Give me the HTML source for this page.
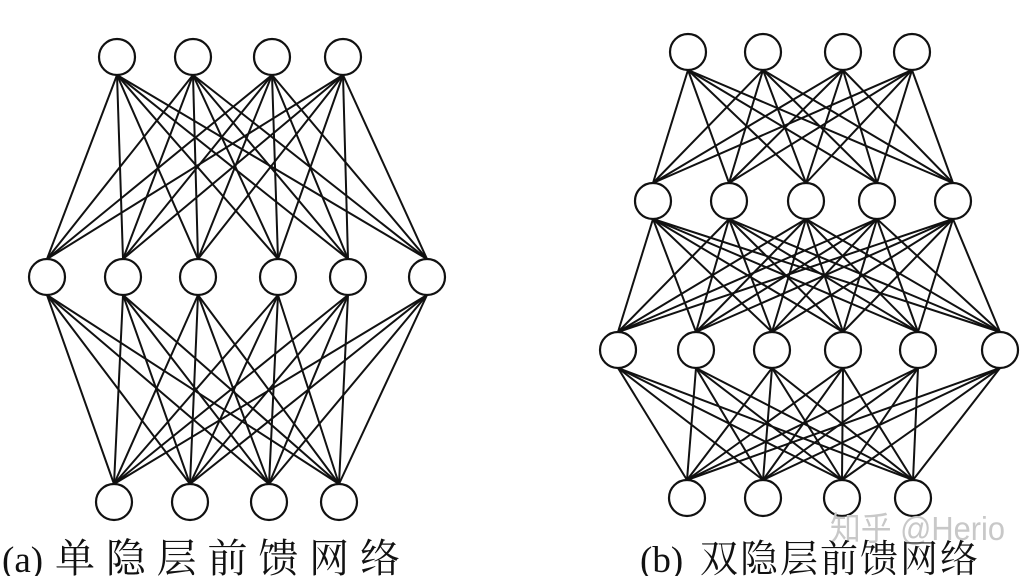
<!DOCTYPE html>
<html><head><meta charset="utf-8"><style>
html,body{margin:0;padding:0;background:#fff;width:1034px;height:576px;overflow:hidden}
svg{display:block}
</style></head><body>
<svg id="s" width="1034" height="576" viewBox="0 0 1034 576" xmlns="http://www.w3.org/2000/svg">
<g id="lines" stroke="#111" stroke-width="2" fill="none"></g>
<g id="nodes" stroke="#111" stroke-width="2.2" fill="#fff"></g>
<text x="830" y="540" font-family="'Liberation Sans','Noto Sans CJK SC',sans-serif" font-size="33" fill="#c8c8c8" textLength="175" lengthAdjust="spacingAndGlyphs">知乎 @Herio</text>
<g font-family="'Liberation Serif','Noto Serif CJK SC',serif" fill="#111">
<text x="2" y="572" font-size="37">(a)</text>
<text x="55" y="572" font-size="40" textLength="345" lengthAdjust="spacing">单隐层前馈网络</text>
<text x="640" y="572" font-size="37">(b)</text>
<text x="700" y="572" font-size="38" textLength="278" lengthAdjust="spacing">双隐层前馈网络</text>
</g>
</svg>
<script>
var R=18;
var nets=[
 [[57,[117,193,272,343]],[277,[47,123,198,278,348,427]],[502,[114,190,269,339]]],
 [[52,[688,763,843,912]],[201,[653,729,806,877,953]],[350,[618,696,772,843,918,1000]],[498,[687,763,842,913]]]
];
var L=document.getElementById('lines'),N=document.getElementById('nodes'),ns='http://www.w3.org/2000/svg';
nets.forEach(function(net){
 for(var i=0;i<net.length;i++){
  var y=net[i][0];
  net[i][1].forEach(function(x){
   var c=document.createElementNS(ns,'circle');c.setAttribute('cx',x);c.setAttribute('cy',y);c.setAttribute('r',R);N.appendChild(c);
  });
  if(i<net.length-1){
   var y2=net[i+1][0];
   net[i][1].forEach(function(x1){net[i+1][1].forEach(function(x2){
    var l=document.createElementNS(ns,'line');
    l.setAttribute('x1',x1);l.setAttribute('y1',y+R);l.setAttribute('x2',x2);l.setAttribute('y2',y2-R);L.appendChild(l);
   });});
  }
 }
});
</script>
</body></html>
